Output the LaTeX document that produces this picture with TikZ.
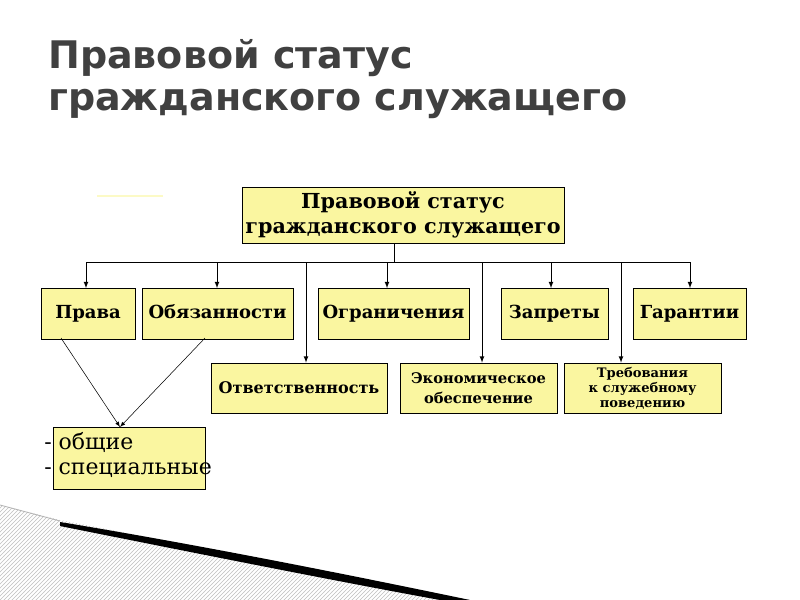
\documentclass[tikz,border=0pt]{standalone}
\usepackage{fontspec}
\setmainfont{DejaVu Serif}
\newfontfamily\ttl{DejaVu Sans}
\usetikzlibrary{patterns}
\definecolor{boxy}{RGB}{250,246,160}
\definecolor{ttlc}{RGB}{64,64,64}
\tikzset{bx/.style={draw,fill=boxy,line width=0.6pt,inner sep=0pt,font=\bfseries},
 ar/.style={-latex,line width=0.6pt},
 thin/.style={-latex,line width=0.4pt}}
\begin{document}
\begin{tikzpicture}[x=0.75pt,y=-0.75pt]
\fill[white] (0,0) rectangle (800,600);
\useasboundingbox (0,0) rectangle (800,600);
% decoration
\fill[pattern=north east lines,pattern color=gray!50] (0,505) -- (60,520) -- (470,600) -- (0,600) -- cycle;
\fill[black] (60,522) .. controls (200,545) and (350,575) .. (470,600) -- (440,600) .. controls (330,580) and (180,550) .. (60,526) -- cycle;
\draw[gray!60,line width=0.6pt] (0,505) -- (60,521);
\draw[boxy!60,line width=1.5pt] (97,196) -- (163,196);
% title
\node[anchor=west,font=\ttl\bfseries\fontsize{28.5}{31}\selectfont,text=ttlc,align=left,inner sep=0pt] (t) at (48,79) {Правовой статус\\гражданского служащего};
% boxes
\node[bx,minimum width=322*0.75pt,minimum height=56*0.75pt,align=center,font=\bfseries\fontsize{15.5}{19}\selectfont] (top) at (403,215) {Правовой статус\\гражданского служащего};
\foreach \n/\xa/\xb/\t in {pr/41/135/Права,ob/142/293/Обязанности,og/318/469/Ограничения,za/501/608/Запреты,ga/633/746/Гарантии}
 \node[bx,minimum width={(\xb-\xa)*0.75pt},minimum height=51*0.75pt,text height=9pt,text depth=2.5pt,font=\bfseries\fontsize{13.5}{16}\selectfont] (\n) at ({(\xa+\xb)/2},314) {\t};
\node[bx,minimum width=176*0.75pt,minimum height=50*0.75pt,font=\bfseries\fontsize{12}{14}\selectfont] (ot) at (299,388) {Ответственность};
\node[bx,minimum width=157*0.75pt,minimum height=50*0.75pt,align=center,font=\bfseries\fontsize{11}{14.5}\selectfont] (ek) at (478.5,388) {Экономическое\\обеспечение};
\node[bx,minimum width=157*0.75pt,minimum height=50*0.75pt,align=center,font=\bfseries\fontsize{9.8}{11.3}\selectfont] (tr) at (642.5,388) {Требования\\к служебному\\поведению};
\node[draw,fill=boxy,line width=0.6pt,minimum width=152*0.75pt,minimum height=62*0.75pt] (gen) at (129,458) {};
\node[anchor=north west,align=left,inner sep=0pt,font=\fontsize{16.5}{19}\selectfont] (gt) at (44,432) {- общие\\- специальные};
% connectors
\coordinate (j) at (394,262);
\draw[line width=0.6pt] (top.south -| j) -- (j);
\draw[line width=0.6pt] (86,262) -- (690,262);
\foreach \x/\n in {86/pr,217/ob,387/og,551/za,690/ga}
 \draw[ar] (\x,262) -- (\x,262 |- \n.north);
\foreach \x/\n in {306/ot,482/ek,621/tr}
 \draw[ar] (\x,262) -- (\x,262 |- \n.north);
\draw[thin] (61,338) -- (120,427);
\draw[thin] (205,338) -- (120,427);
\end{tikzpicture}
\end{document}
